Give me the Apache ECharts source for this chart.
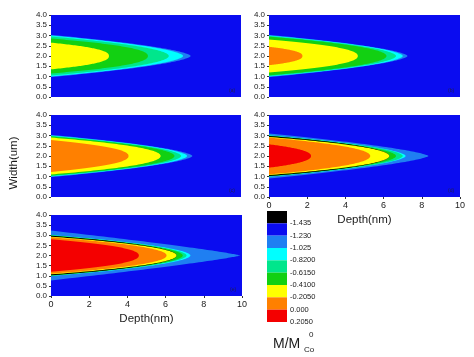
<!DOCTYPE html>
<html><head><meta charset="utf-8">
<script src="https://cdn.jsdelivr.net/npm/echarts@6/dist/echarts.min.js"></script>
<style>html,body{margin:0;padding:0;background:#fff}#c{width:474px;height:357px}</style>
</head><body><div id="c"></div>
<script>
// ---- legend (colour levels, top to bottom) ----
const legendLabels = ['-1.435','-1.230','-1.025','-0.8200','-0.6150','-0.4100','-0.2050','0.000','0.2050'];
const levelNames = ['black','blue','dodger','cyan','spring','green','yellow','orange','red'];
const xTickValues = [0, 2, 4, 6, 8, 10];
const yTickValues = [0.0, 0.5, 1.0, 1.5, 2.0, 2.5, 3.0, 3.5, 4.0];
const centreWidth = 2.0;
const panelTags = ['(a)', '(b)', '(c)', '(d)', '(e)'];

// ---- contours per panel, outer -> inner: level, tip depth (nm), half width at depth 0 (um), shape ----
const panelA_level = ['dodger','cyan','spring','green','yellow'];
const panelA_tip   = [7.35, 6.95, 6.2, 5.1, 3.05];
const panelA_half  = [1.03, 1.00, 0.95, 0.85, 0.65];
const panelA_shape = [0.62, 0.58, 0.52, 0.45, 0.42];

const panelB_level = ['dodger','cyan','spring','green','yellow','orange'];
const panelB_tip   = [7.25, 7.0, 6.65, 6.15, 4.65, 1.75];
const panelB_half  = [1.03, 1.00, 0.98, 0.94, 0.81, 0.45];
const panelB_shape = [0.62, 0.58, 0.55, 0.5, 0.45, 0.42];

const panelC_level = ['dodger','cyan','spring','green','yellow','orange'];
const panelC_tip   = [7.44, 7.16, 6.85, 6.5, 5.77, 4.08];
const panelC_half  = [1.03, 1.00, 0.98, 0.95, 0.90, 0.78];
const panelC_shape = [0.62, 0.58, 0.55, 0.52, 0.48, 0.45];

const panelD_level = ['dodger','cyan','spring','green','black','yellow','orange','red'];
const panelD_tip   = [8.35, 7.15, 7.0, 6.65, 6.3, 6.3, 5.3, 2.2];
const panelD_half  = [1.10, 1.01, 1.0, 0.99, 0.98, 0.93, 0.90, 0.57];
const panelD_shape = [0.7, 0.58, 0.56, 0.54, 0.5, 0.5, 0.48, 0.45];

const panelE_level = ['dodger','cyan','spring','green','black','yellow','orange','red'];
const panelE_tip   = [9.9, 7.3, 7.1, 6.9, 6.57, 6.57, 6.05, 4.6];
const panelE_half  = [1.23, 1.01, 1.0, 0.99, 0.98, 0.93, 0.90, 0.80];
const panelE_shape = [0.85, 0.55, 0.54, 0.53, 0.5, 0.5, 0.48, 0.45];

const panels = [
  {level: panelA_level, tip: panelA_tip, half: panelA_half, shape: panelA_shape},
  {level: panelB_level, tip: panelB_tip, half: panelB_half, shape: panelB_shape},
  {level: panelC_level, tip: panelC_tip, half: panelC_half, shape: panelC_shape},
  {level: panelD_level, tip: panelD_tip, half: panelD_half, shape: panelD_shape},
  {level: panelE_level, tip: panelE_tip, half: panelE_half, shape: panelE_shape}
];

// ---- styles ----
const levelColors = {
  black: '#000000', blue: '#0a0cf0', dodger: '#1f7ff2', cyan: '#00ffff',
  spring: '#00e68c', green: '#12d012', yellow: '#ffff00', orange: '#ff8000', red: '#f40000'
};
const grids = [
  {left: 51, top: 15, width: 190, height: 82},
  {left: 269, top: 15, width: 191, height: 82},
  {left: 51, top: 115, width: 190, height: 82},
  {left: 269, top: 115, width: 191, height: 82},
  {left: 51, top: 215, width: 191, height: 81}
];
const FONT = 'Liberation Sans, Arial, sans-serif';
const TXT = '#1a1a1a';

function contourItem(params, api) {
  const tip = api.value(0), half = api.value(1), p = api.value(2), lvl = api.value(3);
  const N = 60, up = [], down = [];
  for (let i = 0; i <= N; i++) {
    const t = 1 - Math.pow(1 - i / N, 2);
    const x = tip * t;
    const h = half * Math.pow(Math.max(0, 1 - t), p);
    up.push(api.coord([x, centreWidth + h]));
    down.push(api.coord([x, centreWidth - h]));
  }
  const pts = up.concat(down.reverse());
  return {type: 'polygon', shape: {points: pts}, style: {fill: levelColors[levelNames[lvl]]}};
}

const titleStyle = (size) => ({fontSize: size, fontWeight: 'normal', color: TXT, fontFamily: FONT});
const option = {
  animation: false,
  backgroundColor: '#ffffff',
  textStyle: {fontFamily: FONT},
  title: [
    {text: 'M/M', left: 273, top: 337, padding: 0, textStyle: titleStyle(14)},
    {text: 'Co', left: 304, top: 346, padding: 0, textStyle: titleStyle(8)},
    {text: '0', left: 309, top: 331, padding: 0, textStyle: titleStyle(8)}
  ],
  grid: grids.map(g => Object.assign({show: true, backgroundColor: levelColors.blue, borderWidth: 0, containLabel: false}, g))
    .concat([{left: 267, top: 211, width: 20, height: 111, show: false}]),
  xAxis: grids.map((g, i) => ({
    gridIndex: i, type: 'value', min: xTickValues[0], max: xTickValues[xTickValues.length - 1], interval: 2,
    splitLine: {show: false},
    axisLine: {show: false},
    axisTick: {show: i >= 3, length: 2, lineStyle: {color: '#333'}},
    axisLabel: {show: i >= 3, fontSize: 9, color: TXT, margin: 4, fontFamily: FONT},
    name: i >= 3 ? 'Depth(nm)' : '', nameLocation: 'middle', nameGap: 17,
    nameTextStyle: {fontSize: 11.5, color: TXT, fontFamily: FONT}
  })).concat([{gridIndex: 5, type: 'value', min: 0, max: 1, show: false}]),
  yAxis: grids.map((g, i) => ({
    gridIndex: i, type: 'value', min: yTickValues[0], max: yTickValues[yTickValues.length - 1], interval: 0.5,
    splitLine: {show: false},
    axisLine: {show: false},
    axisTick: {show: true, length: 2, lineStyle: {color: '#333'}},
    axisLabel: {fontSize: 8, color: TXT, margin: 4, fontFamily: FONT, formatter: v => v.toFixed(1)},
    name: i === 2 ? 'Width(um)' : '', nameLocation: 'middle', nameGap: 31,
    nameTextStyle: {fontSize: 11.5, color: TXT, fontFamily: FONT, padding: [0, 14, 0, 0]}
  })).concat([{
    gridIndex: 5, type: 'value', min: 0, max: legendLabels.length, interval: 1, inverse: true, position: 'right',
    splitLine: {show: false}, axisLine: {show: false}, axisTick: {show: false},
    axisLabel: {fontSize: 7.5, color: TXT, margin: 3, fontFamily: FONT,
      formatter: v => (v >= 1 ? legendLabels[Math.round(v) - 1] : '')}
  }]),
  series: panels.map((pn, i) => ({
    type: 'custom', xAxisIndex: i, yAxisIndex: i, clip: true,
    renderItem: contourItem,
    data: pn.level.map((lv, k) => [pn.tip[k], pn.half[k], pn.shape[k], levelNames.indexOf(lv)])
  })).concat([{
    type: 'custom', xAxisIndex: 5, yAxisIndex: 5,
    renderItem: (params, api) => {
      const k = api.value(0);
      const a = api.coord([0, k]), b = api.coord([1, k + 1]);
      return {type: 'rect', shape: {x: a[0], y: a[1], width: b[0] - a[0], height: b[1] - a[1]},
        style: {fill: levelColors[levelNames[k]]}};
    },
    data: levelNames.map((n, k) => [k])
  }]),
  graphic: grids.map((g, i) => ({
    type: 'text', left: g.left + g.width - 12, top: g.top + g.height - 9, silent: true,
    style: {text: panelTags[i], fontSize: 5, fill: '#202050', fontFamily: FONT}
  }))
};
const chart = echarts.init(document.getElementById('c'), null, {renderer: 'canvas'});
chart.setOption(option);
</script></body></html>
